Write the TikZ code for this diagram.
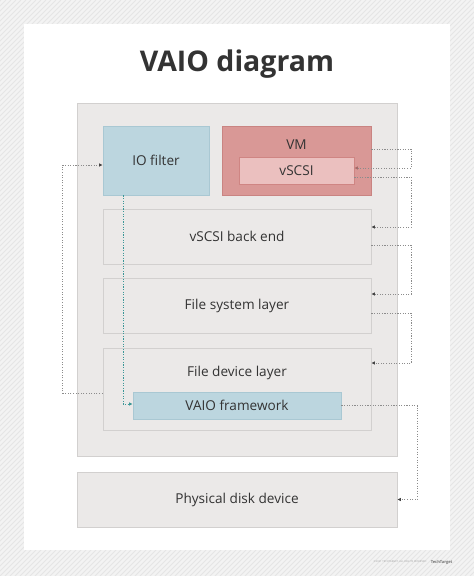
\documentclass[tikz,border=0pt]{standalone}
\usepackage{fontspec}
\setmainfont{Open Sans}
\usetikzlibrary{arrows.meta}
\definecolor{hatchbg}{HTML}{F3F3F3}
\definecolor{hatchln}{HTML}{E5E5E5}
\definecolor{boxfill}{HTML}{EBE9E8}
\definecolor{boxline}{HTML}{D2D0CF}
\definecolor{bluefill}{HTML}{BCD6DF}
\definecolor{blueline}{HTML}{A9C8D3}
\definecolor{vmfill}{HTML}{D99896}
\definecolor{vmline}{HTML}{C98482}
\definecolor{vsfill}{HTML}{EBC0BF}
\definecolor{vsline}{HTML}{CF8583}
\definecolor{txt}{HTML}{333333}
\definecolor{dotc}{HTML}{8C8C8C}
\definecolor{tealc}{HTML}{3B9797}
\definecolor{tipc}{HTML}{444444}
\tikzset{
  lbl/.style={font=\fontsize{13.6}{16}\selectfont, text=txt},
  layerbox/.style={draw=boxline, fill=boxfill, line width=0.8pt, lbl, inner sep=0pt},
  bluebox/.style={draw=blueline, fill=bluefill, line width=0.8pt, lbl, inner sep=0pt},
  conn/.style={draw=dotc, line width=1pt, dash pattern=on 1.1pt off 1.5pt,
    -{Latex[length=3.5pt,width=3.5pt,color=tipc]}},
  tconn/.style={conn, draw=tealc, -{Latex[length=3.5pt,width=3.5pt,color=tealc]}},
}
\begin{document}
\begin{tikzpicture}[x=1pt,y=-1pt]
\useasboundingbox (0,0) rectangle (474,576);
% hatched background
\fill[hatchbg] (0,0) rectangle (474,576);
\begin{scope}
\clip (0,0) rectangle (474,576);
\foreach \i in {-600,-595,...,480} {
  \draw[hatchln, line width=1pt] (\i,576) -- ++(576,-576);
}
\end{scope}
% white card
\fill[white] (24,24) rectangle (450,550);
% title
\node[font=\fontsize{28.5}{32}\selectfont\bfseries, text=txt] (title) at (237,64) {VAIO diagram};
% outer host box
\node[draw=boxline, fill=boxfill, line width=0.8pt, minimum width=320pt, minimum height=353pt, inner sep=0pt] (outer) at (237,279.5) {};
% inner boxes
\node[bluebox, minimum width=106pt, minimum height=69pt] (iof) at (156,160.5) {IO filter};
\node[draw=vmline, fill=vmfill, line width=0.8pt, minimum width=149pt, minimum height=69pt, inner sep=0pt,
  label={[lbl, anchor=center, yshift=-19pt]north:VM}] (vm) at (296.5,160.5) {};
\node[draw=vsline, fill=vsfill, line width=0.8pt, lbl, minimum width=115pt, minimum height=27pt, inner sep=0pt] (vscsi) at (296.5,170.5) {vSCSI};
\node[layerbox, minimum width=268pt, minimum height=55pt] (vbe) at (237,236.5) {vSCSI back end};
\node[layerbox, minimum width=268pt, minimum height=55pt] (fsl) at (237,305.5) {File system layer};
\node[layerbox, minimum width=268pt, minimum height=82pt,
  label={[lbl, anchor=center, yshift=-25pt]north:File device layer}] (fdl) at (237,389) {};
\node[bluebox, minimum width=208pt, minimum height=27pt] (vaio) at (237,405.5) {VAIO framework};
\node[layerbox, minimum width=320pt, minimum height=55pt] (pdd) at (237,499.5) {Physical disk device};
% connectors
\draw[conn] ([yshift=-4pt]fdl.west) -- ++(-40,0) |- ([yshift=-4.5pt]iof.west);
\draw[tconn] ([xshift=-33pt]iof.south) |- ([yshift=1.5pt]vaio.west);
\draw[conn, -{Latex[length=3.5pt,width=3.5pt,color=vsline!80!black]}] ([yshift=11.5pt]vm.east) -- ++(40,0) |- ([yshift=2.5pt]vscsi.east);
\draw[conn] ([yshift=-6.5pt]vscsi.east) -- ++(57,0) |- ([yshift=9.5pt]vbe.east);
\draw[conn] ([yshift=-8.5pt]vbe.east) -- ++(40,0) |- ([yshift=11.5pt]fsl.east);
\draw[conn] ([yshift=-7.5pt]fsl.east) -- ++(40,0) |- ([yshift=26pt]fdl.east);
\draw[conn] (vaio.east) -- ++(76,0) |- (pdd.east);
% credit
\node[font=\fontsize{2.6}{3}\selectfont, text=black!35, anchor=east] (credit) at (430,562) {©2021 TECHTARGET. ALL RIGHTS RESERVED};
\node[font=\fontsize{4}{5}\selectfont\bfseries, text=black!55, anchor=east] (logo) at (456,562) {TechTarget};
\end{tikzpicture}
\end{document}
